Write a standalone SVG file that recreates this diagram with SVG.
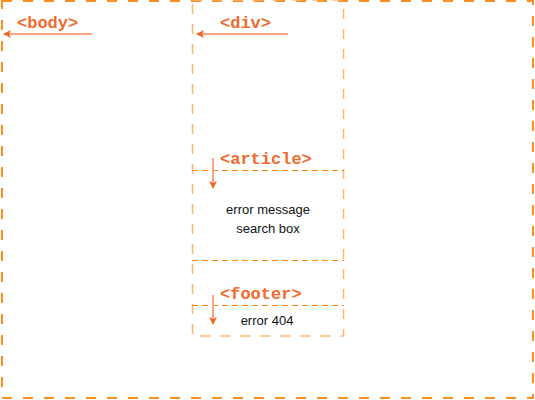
<svg xmlns="http://www.w3.org/2000/svg" width="535" height="400" viewBox="0 0 535 400">
<style>
.tag{font-family:"Liberation Mono","Courier New",monospace;font-weight:bold;font-size:17px;fill:#f26a2e}
.lbl{font-family:"Liberation Sans",Arial,sans-serif;font-size:13px;fill:#111;text-anchor:middle}
.body{fill:none;stroke:#fb8f22;stroke-width:2;stroke-dasharray:10,11}
.div{fill:none;stroke:#ffb56e;stroke-width:1.5;stroke-dasharray:10,10}
.sep{fill:none;stroke:#ff8410;stroke-width:1;stroke-dasharray:6,4}
.arr{stroke:#f9a383;stroke-width:2;fill:none}
.head{fill:#f26522}
</style>
<defs>
<marker id="ah" markerWidth="8" markerHeight="8" refX="7" refY="4" orient="auto" markerUnits="userSpaceOnUse">
<path class="head" d="M0,0 L8,4 L0,8 L2,4 Z"/>
</marker>
</defs>
<g id="body">
<rect class="body" x="2" y="1" width="531" height="397"/>
<text class="tag" x="17" y="28">&lt;body&gt;</text>
</g>
<g id="div">
<rect class="div" x="192.5" y="0" width="151" height="336"/>
<text class="tag" x="220" y="28">&lt;div&gt;</text>
</g>
<g id="article">
<line class="sep" x1="192" y1="170.5" x2="344" y2="170.5"/>
<line class="sep" x1="192" y1="260.5" x2="344" y2="260.5"/>
<text class="tag" x="220" y="164">&lt;article&gt;</text>
<text class="lbl" x="268" y="214">error message</text>
<text class="lbl" x="268" y="233">search box</text>
</g>
<g id="footer">
<line class="sep" x1="192" y1="305.5" x2="344" y2="305.5"/>
<text class="tag" x="220" y="299">&lt;footer&gt;</text>
<text class="lbl" x="267" y="325">error 404</text>
</g>
<g id="connectors">
<line class="arr" x1="92" y1="34" x2="4" y2="34" marker-end="url(#ah)"/>
<line class="arr" x1="288" y1="34" x2="197" y2="34" marker-end="url(#ah)"/>
<line class="arr" x1="213" y1="158" x2="213" y2="188" marker-end="url(#ah)"/>
<line class="arr" x1="213" y1="295" x2="213" y2="324" marker-end="url(#ah)"/>
</g>
</svg>
